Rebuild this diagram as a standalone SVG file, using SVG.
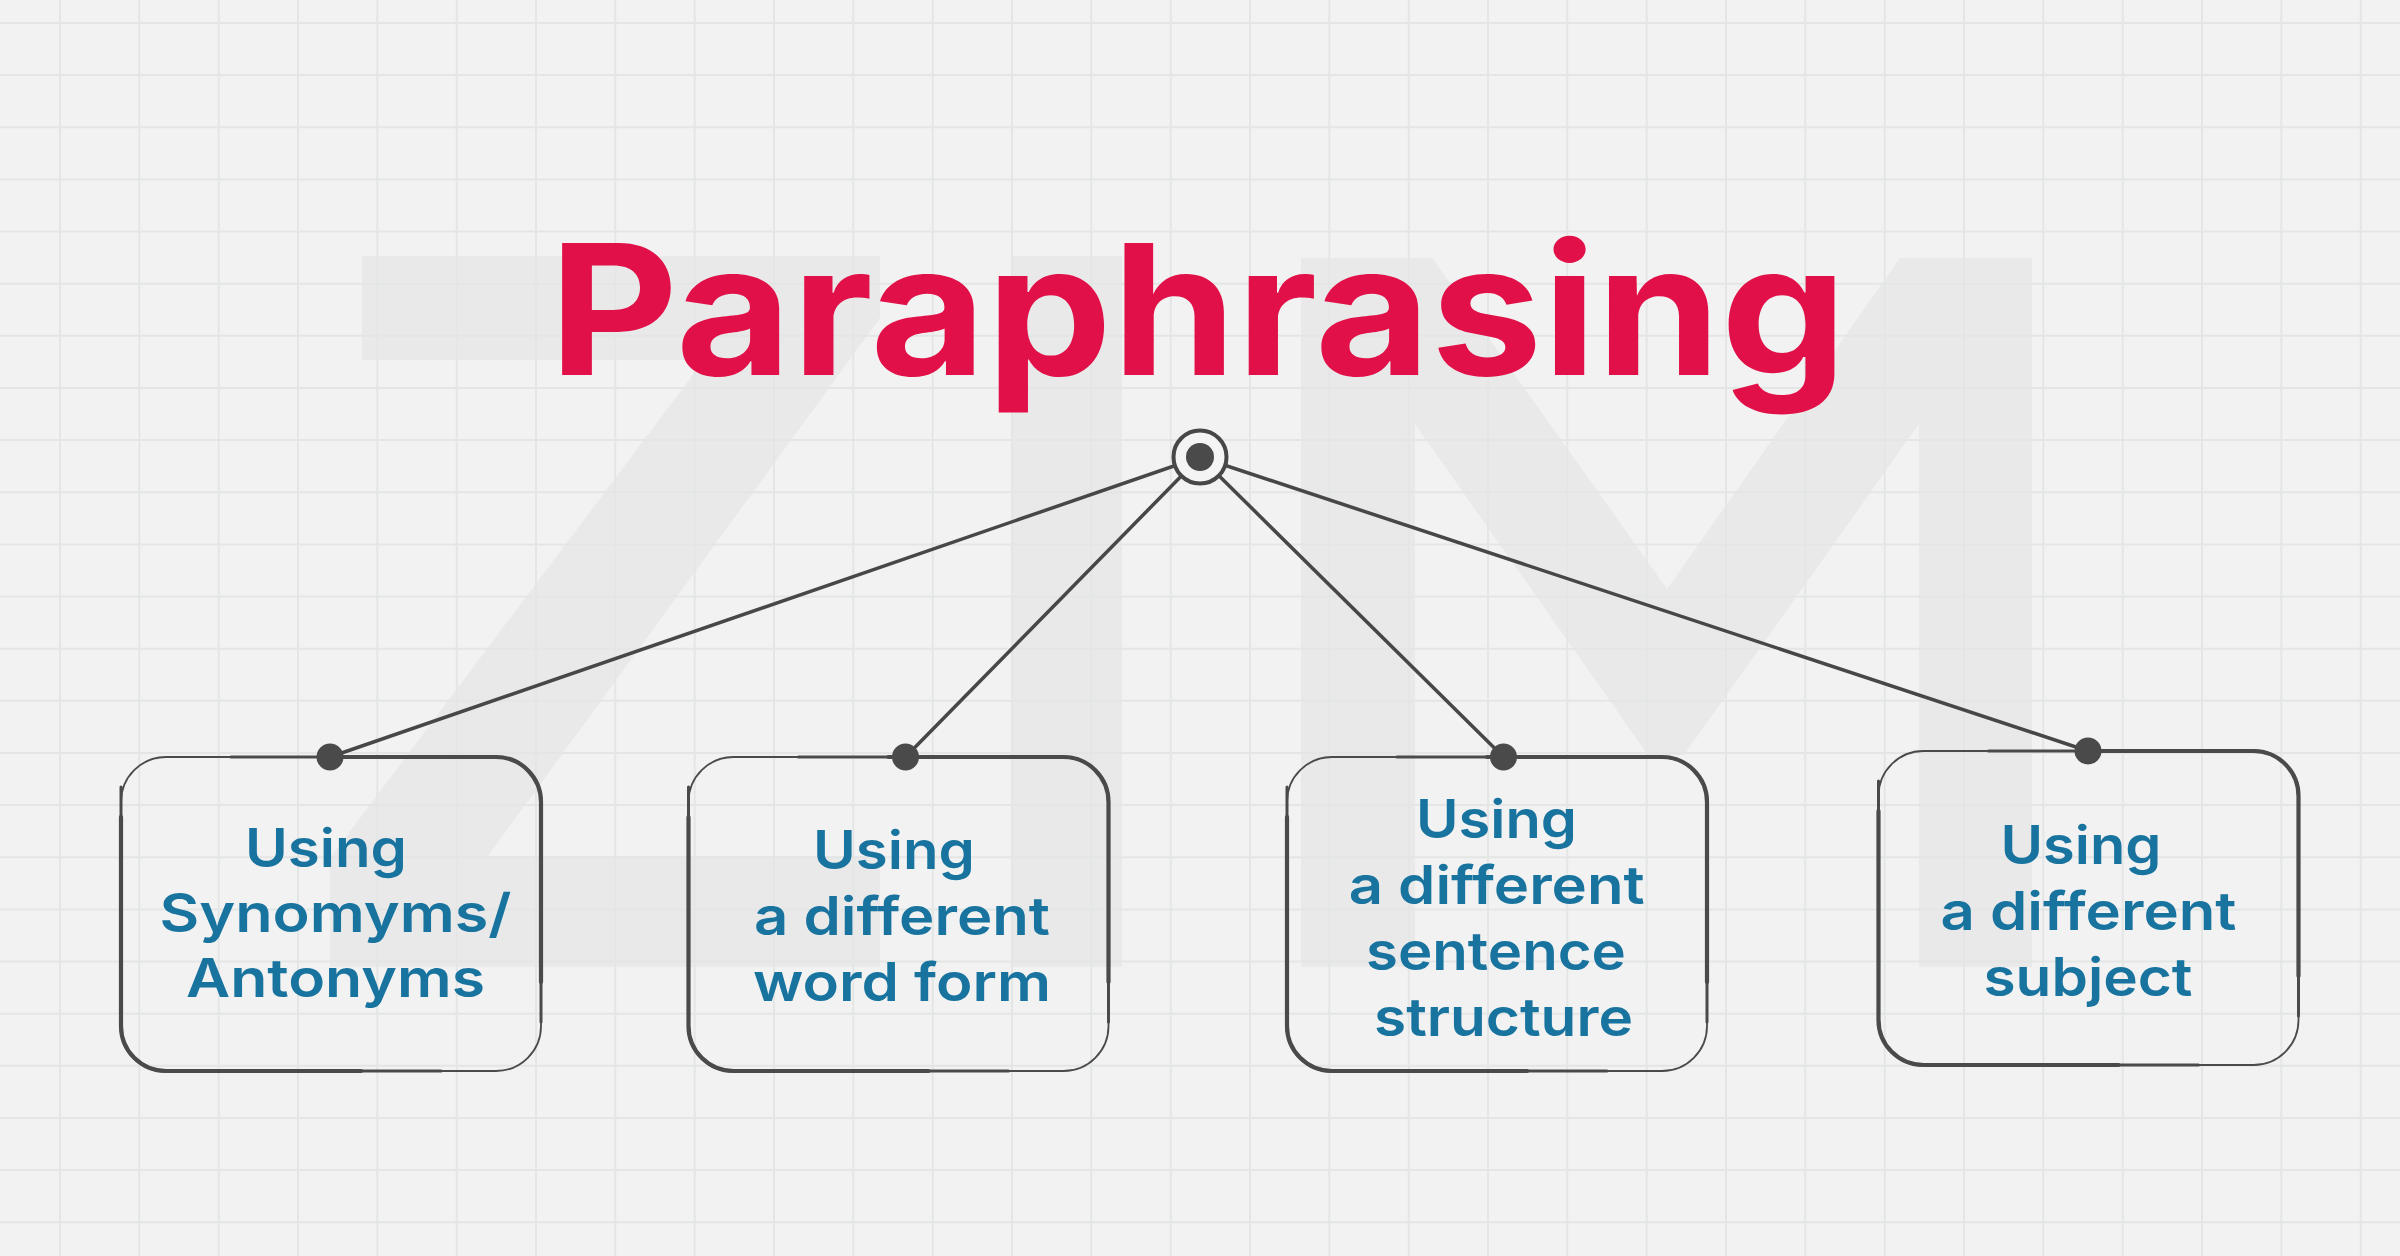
<svg xmlns="http://www.w3.org/2000/svg" xmlns:xlink="http://www.w3.org/1999/xlink" width="2400" height="1256" viewBox="0 0 2400 1256">
  <style>
    .ghost { fill: #e9e9e9; }
    .grid { stroke: #e4e6e6; stroke-width: 2; fill: none; }
    .title { font-family: Inter, "Noto Sans", "Liberation Sans", sans-serif; font-weight: 700; font-size: 182px; fill: #e11048; }
    .lbl { font-family: Inter, "Noto Sans", "Liberation Sans", sans-serif; font-weight: 600; font-size: 53px; fill: #18739f; text-anchor: middle; }
    .edge { stroke: #474747; stroke-width: 3.5; fill: none; stroke-linecap: round; }
    .dot { fill: #4a4a4a; }
    .bx-thin { stroke: #4a4a4a; stroke-width: 1.8; fill: none; }
    .bx-mid { stroke: #4a4a4a; stroke-width: 3; fill: none; stroke-linecap: round; }
    .bx-thick { stroke: #4a4a4a; stroke-width: 4.2; fill: none; stroke-linecap: round; }
  </style>
  <defs>
    <g id="boxShape">
      <path class="bx-thin" d="M45,0 H375 A45,45 0 0 1 420,45 V269 A45,45 0 0 1 375,314 H45 A45,45 0 0 1 0,269 V45 A45,45 0 0 1 45,0 Z"/>
      <path class="bx-mid" d="M110,0 H375 A45,45 0 0 1 420,45 V265"/>
      <path class="bx-thick" d="M200,0 H375 A45,45 0 0 1 420,45 V225"/>
      <path class="bx-mid" d="M0,30 V269 A45,45 0 0 0 45,314 H320"/>
      <path class="bx-thick" d="M0,60 V269 A45,45 0 0 0 45,314 H240"/>
    </g>
  </defs>

  <rect x="0" y="0" width="2400" height="1256" fill="#f2f2f2"/>

  <g id="ghost-logo">
    <polygon class="ghost" points="362,256 880,256 880,318 488,856 880,856 880,967 330,967 330,858 704,360 362,360"/>
    <rect class="ghost" x="1013" y="256" width="109" height="711"/>
    <polygon class="ghost" points="1301,258 1432,258 1667,589 1900,258 2032,258 2032,967 1919,967 1919,424 1684,755 1648,755 1415,424 1415,967 1301,967"/>
  </g>

  <path id="grid" class="grid" d="M60,0V1256 M139.3,0V1256 M218.7,0V1256 M298,0V1256 M377.3,0V1256 M456.7,0V1256 M536,0V1256 M615.3,0V1256 M694.7,0V1256 M774,0V1256 M853.3,0V1256 M932.7,0V1256 M1012,0V1256 M1091.3,0V1256 M1170.7,0V1256 M1250,0V1256 M1329.3,0V1256 M1408.7,0V1256 M1488,0V1256 M1567.3,0V1256 M1646.7,0V1256 M1726,0V1256 M1805.3,0V1256 M1884.7,0V1256 M1964,0V1256 M2043.3,0V1256 M2122.7,0V1256 M2202,0V1256 M2281.3,0V1256 M2360.7,0V1256 M0,23H2400 M0,75.1H2400 M0,127.3H2400 M0,179.4H2400 M0,231.6H2400 M0,283.7H2400 M0,335.8H2400 M0,388H2400 M0,440.1H2400 M0,492.3H2400 M0,544.4H2400 M0,596.5H2400 M0,648.7H2400 M0,700.8H2400 M0,753H2400 M0,805.1H2400 M0,857.2H2400 M0,909.4H2400 M0,961.5H2400 M0,1013.7H2400 M0,1065.8H2400 M0,1117.9H2400 M0,1170.1H2400 M0,1222.2H2400"/>

  <g id="title">
    <text class="title" x="549" y="375" textLength="1298" lengthAdjust="spacingAndGlyphs">Paraphrasing</text>
  </g>

  <g id="connectors">
    <line class="edge" x1="1200" y1="457" x2="330" y2="757"/>
    <line class="edge" x1="1200" y1="457" x2="905.5" y2="757"/>
    <line class="edge" x1="1200" y1="457" x2="1503.5" y2="757"/>
    <line class="edge" x1="1200" y1="457" x2="2088" y2="751"/>
  </g>

  <g id="center-node">
    <circle cx="1200" cy="457" r="26.5" fill="#f4f4f4" stroke="#474747" stroke-width="4"/>
    <circle class="dot" cx="1200" cy="457" r="14"/>
  </g>

  <g id="box-synonyms">
    <use xlink:href="#boxShape" href="#boxShape" transform="translate(121,757)"/>
    <circle class="dot" cx="330" cy="757" r="13.5"/>
    <text class="lbl" x="326" y="867" textLength="162" lengthAdjust="spacingAndGlyphs">Using</text>
    <text class="lbl" x="335.5" y="932" textLength="352" lengthAdjust="spacingAndGlyphs">Synomyms/</text>
    <text class="lbl" x="335.5" y="997" textLength="299" lengthAdjust="spacingAndGlyphs">Antonyms</text>
  </g>

  <g id="box-word-form">
    <use xlink:href="#boxShape" href="#boxShape" transform="translate(688.5,757)"/>
    <circle class="dot" cx="905.5" cy="757" r="13.5"/>
    <text class="lbl" x="894" y="869" textLength="162" lengthAdjust="spacingAndGlyphs">Using</text>
    <text class="lbl" x="902" y="935" textLength="296" lengthAdjust="spacingAndGlyphs">a different</text>
    <text class="lbl" x="902" y="1001" textLength="298" lengthAdjust="spacingAndGlyphs">word form</text>
  </g>

  <g id="box-sentence-structure">
    <use xlink:href="#boxShape" href="#boxShape" transform="translate(1287,757)"/>
    <circle class="dot" cx="1503.5" cy="757" r="13.5"/>
    <text class="lbl" x="1496.5" y="838" textLength="161" lengthAdjust="spacingAndGlyphs">Using</text>
    <text class="lbl" x="1496.7" y="903.5" textLength="296" lengthAdjust="spacingAndGlyphs">a different</text>
    <text class="lbl" x="1496" y="970" textLength="260" lengthAdjust="spacingAndGlyphs">sentence</text>
    <text class="lbl" x="1503.5" y="1036" textLength="259" lengthAdjust="spacingAndGlyphs">structure</text>
  </g>

  <g id="box-subject">
    <use xlink:href="#boxShape" href="#boxShape" transform="translate(1878.5,751)"/>
    <circle class="dot" cx="2088" cy="751" r="13.5"/>
    <text class="lbl" x="2081" y="863.5" textLength="161" lengthAdjust="spacingAndGlyphs">Using</text>
    <text class="lbl" x="2088.5" y="930" textLength="296" lengthAdjust="spacingAndGlyphs">a different</text>
    <text class="lbl" x="2088" y="996" textLength="209" lengthAdjust="spacingAndGlyphs">subject</text>
  </g>
</svg>
